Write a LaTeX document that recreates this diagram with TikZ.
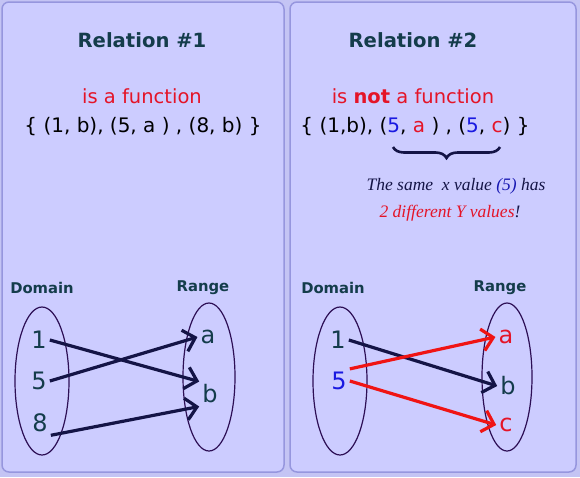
\documentclass[tikz,border=0pt]{standalone}
\usepackage{fontspec}
\setmainfont{DejaVu Sans}
\newfontfamily\notafont{Liberation Serif}
\definecolor{fondo}{RGB}{204,204,255}
\definecolor{exterior}{RGB}{196,196,244}
\definecolor{borde}{RGB}{150,150,222}
\definecolor{tinta}{RGB}{20,60,75}
\definecolor{rojo}{RGB}{228,20,40}
\definecolor{flecharoja}{RGB}{240,20,20}
\definecolor{azul}{RGB}{25,25,225}
\definecolor{marino}{RGB}{20,20,70}
\definecolor{morado}{RGB}{45,15,85}
\usetikzlibrary{arrows.meta,decorations.pathreplacing}

\begin{document}
\begin{tikzpicture}[
        x=1pt,y=-1pt,
        panel/.style={draw=borde,fill=fondo,rounded corners=7pt,line width=1.5pt},
        titulo/.style={font=\fontsize{19.6}{22}\selectfont\bfseries,text=tinta},
        lema/.style={font=\fontsize{19.5}{22}\selectfont,text=rojo},
        conjunto/.style={font=\fontsize{20}{23}\selectfont,text=black},
        etiq/.style={font=\fontsize{14.8}{17}\selectfont\bfseries,text=tinta},
        elem/.style={font=\fontsize{24}{27}\selectfont,text=tinta,inner sep=3pt},
        nota/.style={font=\notafont\itshape\fontsize{17.5}{20}\selectfont,text=marino},
        conj/.style={draw=morado,line width=1.2pt},
        flecha/.style={-{Straight Barb[length=11pt,width=22pt]},line width=3.2pt,marino},
        flechar/.style={flecha,flecharoja}]
        \fill[exterior] (0,0) rectangle (580,477);
        \useasboundingbox (0,0) rectangle (580,477);
        \draw[panel] (2,2) rectangle (284,472);
        \draw[panel] (290,2) rectangle (576,472);
        % relacion 1
        \node[titulo] (tit1) at (142,40) {Relation \#1};
        \node[lema] (lema1) at (142,96) {is a function};
        \node[conjunto] (set1) at (143,127) {\{ (1, b), (5, a ) , (8, b) \}};
        \node[etiq] (dom1) at (42,288) {Domain};
        \node[etiq] (ran1) at (203,288) {Range};
        \draw[conj] (42,381) ellipse [x radius=27,y radius=74];
        \draw[conj] (209,377) ellipse [x radius=26,y radius=74];
        \node[elem] (p1) at (39,340) {1};
        \node[elem] (p5) at (39,381) {5};
        \node[elem] (p8) at (40,423) {8};
        \node[elem] (pa) at (208,337) {a};
        \node[elem] (pb) at (210,394) {b};
        \draw[flecha] (p1.east) -- (pb.north west);
        \draw[flecha] (p5.east) -- (pa.west);
        \draw[flecha] (p8.south east) -- (pb.south west);
        % relacion 2
        \node[titulo] (tit2) at (413,40) {Relation \#2};
        \node[lema] (lema2) at (413,96) {is \textbf{not} a function};
        \node[conjunto] (set2) at (415,127)
          {\{ (1,b), (\textcolor{azul}{5}, \textcolor{rojo}{a} ) , (\textcolor{azul}{5}, \textcolor{rojo}{c}) \}};
        \coordinate (llaveA) at (393,147);
        \coordinate (llaveB) at (500,147);
        \draw[marino,line width=2.6pt,decorate,decoration={brace,mirror,amplitude=11pt}]
          (llaveA) -- (llaveB);
        \node[nota] (nota1) at (456,186)
          {The same\enspace x value \textcolor{azul!70!marino}{(5)} has};
        \node[nota] (nota2) at (450,213)
          {\textcolor{rojo}{2 different Y values}!};
        \node[etiq] (dom2) at (333,288) {Domain};
        \node[etiq] (ran2) at (500,288) {Range};
        \draw[conj] (340,381) ellipse [x radius=27,y radius=74];
        \draw[conj] (507,377) ellipse [x radius=25,y radius=74];
        \node[elem] (q1) at (338,340) {1};
        \node[elem,text=azul] (q5) at (339,381) {5};
        \node[elem,text=rojo] (qa) at (506,337) {a};
        \node[elem] (qb) at (508,386) {b};
        \node[elem,text=rojo] (qc) at (506,425) {c};
        \draw[flecha] (q1.east) -- (qb.west);
        \draw[flechar] (q5.north east) -- (qa.west);
        \draw[flechar] (q5.east) -- (qc.west);
      \end{tikzpicture}
\end{document}
